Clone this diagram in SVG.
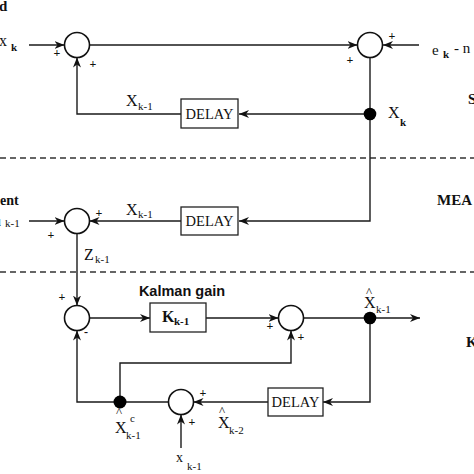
<svg xmlns="http://www.w3.org/2000/svg" width="474" height="474" viewBox="0 0 474 474">
<defs>
<marker id="ar" viewBox="0 0 10 8" refX="10" refY="4" markerWidth="10" markerHeight="8" markerUnits="userSpaceOnUse" orient="auto">
<path d="M0,0 L10,4 L0,8 L3,4 z" fill="#111"/>
</marker>
<style>
.ln{fill:none;stroke:#1a1a1a;stroke-width:1.4}
.sum{fill:#fff;stroke:#111;stroke-width:1.6}
.box{fill:#fff;stroke:#222;stroke-width:1.3}
.dot{fill:#000}
.dash{stroke:#333;stroke-width:1.3;stroke-dasharray:6,4}
.t{font-family:"Liberation Serif","Times New Roman",serif;fill:#111}
.big{font-size:16px}
.sub{font-size:11px}
.pl{font-size:12px;text-anchor:middle;font-weight:bold}
.dl{font-size:14.5px;text-anchor:middle}
.b{font-weight:bold}
.h{font-size:13px}
.s{font-family:"Liberation Sans",Arial,sans-serif;fill:#111;font-weight:bold}
</style>
</defs>
<rect width="474" height="474" fill="#fff"/>

<g id="separators">
<line class="dash" x1="0" y1="158" x2="474" y2="158"/>
<line class="dash" x1="0" y1="272" x2="474" y2="272"/>
</g>

<g id="connectors">
<path class="ln" d="M29,45 H64.5" marker-end="url(#ar)"/>
<path class="ln" d="M89.5,45 H357.5" marker-end="url(#ar)"/>
<path class="ln" d="M419,45 H383" marker-end="url(#ar)"/>
<path class="ln" d="M370,57.5 V221 H239" marker-end="url(#ar)"/>
<path class="ln" d="M370,114 H239" marker-end="url(#ar)"/>
<path class="ln" d="M181,114 H77 V57.5" marker-end="url(#ar)"/>
<path class="ln" d="M181,221 H89.5" marker-end="url(#ar)"/>
<path class="ln" d="M29,221 H64.5" marker-end="url(#ar)"/>
<path class="ln" d="M77,233.5 V305.5" marker-end="url(#ar)"/>
<path class="ln" d="M89.5,318 H150" marker-end="url(#ar)"/>
<path class="ln" d="M206,318 H278.5" marker-end="url(#ar)"/>
<path class="ln" d="M303.5,318 H420" marker-end="url(#ar)"/>
<path class="ln" d="M370,318 V402 H323" marker-end="url(#ar)"/>
<path class="ln" d="M268,402 H193.5" marker-end="url(#ar)"/>
<path class="ln" d="M168.5,402 H77 V330.5" marker-end="url(#ar)"/>
<path class="ln" d="M120,402 V363 H291 V330.5" marker-end="url(#ar)"/>
<path class="ln" d="M181,448 V414.5" marker-end="url(#ar)"/>
</g>

<g id="sum1"><circle class="sum" cx="77" cy="45" r="12.5"/>
<text class="t pl" x="57" y="57">+</text><text class="t pl" x="93" y="68">+</text></g>
<g id="sum2"><circle class="sum" cx="370" cy="45" r="12.5"/>
<text class="t pl" x="392" y="40">+</text><text class="t pl" x="350" y="64">+</text></g>
<g id="sum3"><circle class="sum" cx="77" cy="221" r="12.5"/>
<text class="t pl" x="99" y="217">+</text><text class="t pl" x="51" y="239">+</text></g>
<g id="sum4"><circle class="sum" cx="77" cy="318" r="12.5"/>
<text class="t pl" x="62" y="301">+</text><text class="t pl" x="86" y="336">-</text></g>
<g id="sum5"><circle class="sum" cx="291" cy="318" r="12.5"/>
<text class="t pl" x="270" y="330">+</text><text class="t pl" x="301" y="341">+</text></g>
<g id="sum6"><circle class="sum" cx="181" cy="402" r="12.5"/>
<text class="t pl" x="203" y="397">+</text><text class="t pl" x="192" y="426">+</text></g>

<g id="dot1"><circle class="dot" cx="370" cy="114" r="6.3"/></g>
<g id="dot2"><circle class="dot" cx="370" cy="318" r="6.3"/></g>
<g id="dot3"><circle class="dot" cx="120" cy="402" r="6.5"/></g>

<g id="delay1"><rect class="box" x="181" y="99" width="57" height="29"/><text class="t dl" x="209.5" y="119">DELAY</text></g>
<g id="delay2"><rect class="box" x="181" y="207" width="57" height="28"/><text class="t dl" x="209.5" y="226">DELAY</text></g>
<g id="delay3"><rect class="box" x="268" y="388" width="55" height="28"/><text class="t dl" x="295.5" y="407">DELAY</text></g>
<g id="gain"><rect class="box" x="150" y="303" width="56" height="29"/>
<text class="t b" x="162" y="322" font-size="16">K</text><text class="t b sub" x="174" y="325">k-1</text>
<text class="s" x="182" y="296" font-size="14.5" text-anchor="middle">Kalman gain</text></g>

<g id="labels">
<text class="t b" x="-1" y="11" font-size="15">d</text>
<text class="t big" x="-1" y="46">x</text><text class="t b sub" x="11" y="51">k</text>
<text class="t" x="432" y="55" font-size="15">e</text><text class="t b sub" x="443" y="58">k</text><text class="t" x="454" y="53" font-size="15">- n</text>
<text class="t big" x="126" y="106">X</text><text class="t sub" x="138" y="110">k-1</text>
<text class="t big" x="388" y="118">X</text><text class="t b sub" x="400" y="126">k</text>
<text class="t b" x="468" y="104" font-size="15">S</text>
<text class="t b" x="437" y="205" font-size="15">MEA</text>
<text class="t b" x="0" y="205" font-size="14">ent</text>
<text class="t" x="-6" y="226" font-size="14">u</text><text class="t sub" x="5" y="227">k-1</text>
<text class="t big" x="126" y="215">X</text><text class="t sub" x="138" y="218">k-1</text>
<text class="t big" x="84" y="260">Z</text><text class="t sub" x="95" y="263">k-1</text>
<text class="t b" x="466" y="347" font-size="15">K</text>
<text class="t h" x="366" y="296">^</text><text class="t big" x="364" y="308">X</text><text class="t sub" x="376" y="313">k-1</text>
<text class="t h" x="116" y="416">^</text><text class="t big" x="115" y="433">X</text><text class="t sub" x="130" y="422">c</text><text class="t sub" x="126" y="439">k-1</text>
<text class="t h" x="219" y="415">^</text><text class="t big" x="218" y="428">X</text><text class="t sub" x="229" y="434">k-2</text>
<text class="t" x="176" y="462" font-size="14">x</text><text class="t sub" x="187" y="470">k-1</text>
</g>
</svg>
